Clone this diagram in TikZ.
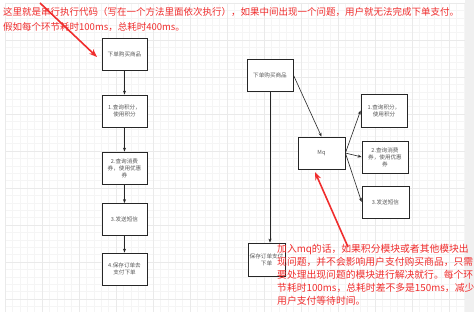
\documentclass[tikz,border=0pt]{standalone}
\usepackage{fontspec}
\setmainfont{Noto Sans CJK SC}
\usetikzlibrary{arrows.meta}
\definecolor{redtxt}{RGB}{240,45,45}
\definecolor{gridminor}{RGB}{245,245,245}
\definecolor{gridmajor}{RGB}{234,234,234}
\definecolor{stripgray}{RGB}{240,240,240}
\begin{document}
\begin{tikzpicture}[x=1pt,y=-1pt,
  box/.style={draw=black!85,line width=0.8pt,fill=white,font=\fontsize{5.6}{7}\selectfont,text=black!65,align=center,inner sep=1pt,minimum width=45pt,minimum height=32pt},
  conn/.style={-{Stealth[length=4pt,width=3pt]},black!85,line width=0.6pt},
  redarr/.style={-{Stealth[length=8pt,width=6pt]},redtxt,line width=1.6pt},
  redtext/.style={text=redtxt,align=left,inner sep=0pt}]
\useasboundingbox (0,0) rectangle (474,312);
\fill[white] (0,0) rectangle (474,312);
% grid
\foreach \x in {5,12.4,...,465} \draw[gridminor,line width=0.3pt] (\x,3) -- (\x,312);
\foreach \y in {3,10.4,...,312} \draw[gridminor,line width=0.3pt] (5,\y) -- (465,\y);
\foreach \x in {5,42,...,465} \draw[gridmajor,line width=0.4pt] (\x,3) -- (\x,312);
\foreach \y in {3,40,...,312} \draw[gridmajor,line width=0.4pt] (5,\y) -- (465,\y);
\fill[stripgray] (465,0) rectangle (474,312);

% left column
\node[box] (L1) at (124.5,54) {下单购买商品};
\node[box] (L2) at (124.5,111) {1.查询积分，\\使用积分};
\node[box] (L3) at (124.5,168) {2.查询消费\\券，使用优惠\\券};
\node[box] (L4) at (124.5,219.5) {3.发送短信};
\node[box] (L5) at (124.5,269) {4.保存订单去\\支付下单};
\draw[conn] (L1) -- (L2);
\draw[conn] (L2) -- (L3);
\draw[conn] (L3) -- (L4);
\draw[conn] (L4) -- (L5);

% right part
\node[box,minimum width=46pt] (R0) at (270,75) {下单购买商品};
\node[box,minimum width=47pt] (Mq) at (321.5,153) {Mq};
\node[box,minimum width=46pt,minimum height=33pt] (R1) at (384,110.5) {1.查询积分，\\使用积分};
\node[box,minimum width=46pt] (R2) at (385,157) {2.查询消费\\券，使用优惠\\券};
\node[box,minimum width=47pt] (R3) at (385.5,202) {3.发送短信};
\node[box,minimum width=37pt,minimum height=33pt] (R5) at (266.5,259.5) {保存订单支付\\下单};
\draw[conn] (R0.east) -- (Mq.north);
\draw[conn] (R0.south) -- (R0.south |- R5.north);
\draw[conn] (Mq.east) -- (R1.west);
\draw[conn] (Mq.east) -- (R2.west);
\draw[conn] (Mq.east) -- (R3.west);

% red annotations
\node[redtext,anchor=west,font=\fontsize{9.5}{12}\selectfont] (T1) at (3,12) {这里就是串行执行代码（写在一个方法里面依次执行），如果中间出现一个问题，用户就无法完成下单支付。};
\node[redtext,anchor=west,font=\fontsize{9.5}{12}\selectfont] (T2) at (3,27) {假如每个环节耗时100ms，总耗时400ms。};
\coordinate (a1s) at (40,3);
\coordinate (a1e) at (97,57);
\draw[redarr] (a1s) -- (a1e);

\coordinate (a2s) at (348,247);
\coordinate (a2e) at (315,172);
\draw[redarr] (a2s) -- (a2e);
\node[redtext,anchor=north west,font=\fontsize{9.8}{12.9}\selectfont] (B) at (277,244) {加入mq的话，如果积分模块或者其他模块出\\现问题，并不会影响用户支付购买商品，只需\\要处理出现问题的模块进行解决就行。每个环\\节耗时100ms，总耗时差不多是150ms，减少\\用户支付等待时间。};
\end{tikzpicture}
\end{document}
